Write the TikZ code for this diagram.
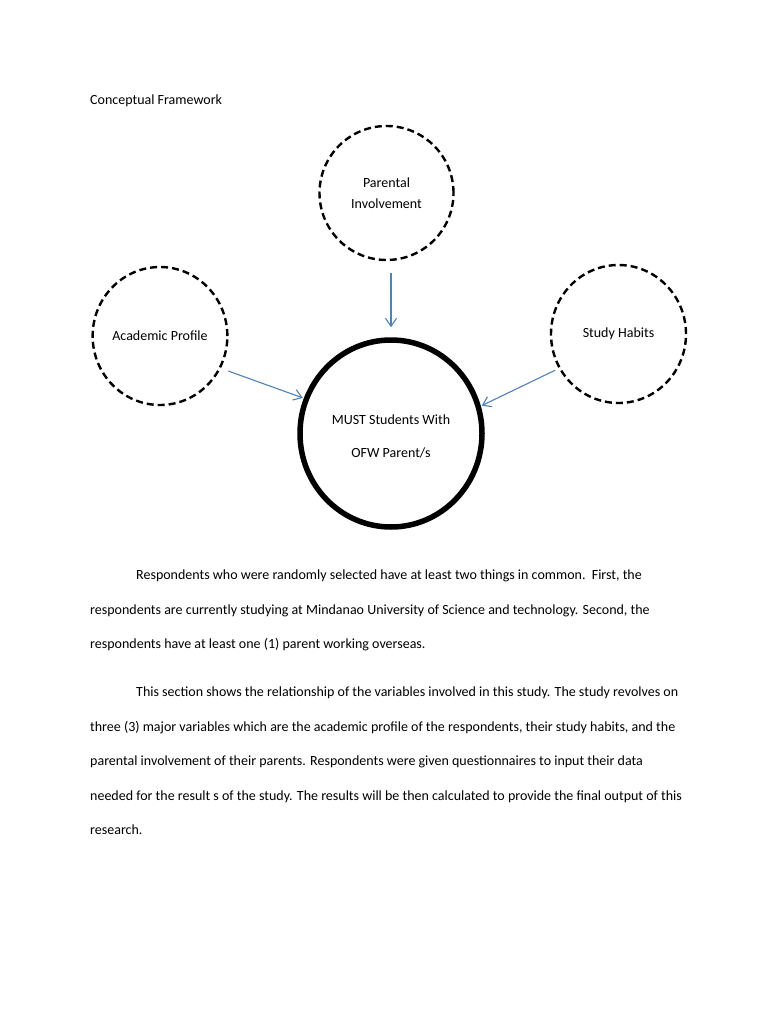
\documentclass[tikz,border=0pt]{standalone}
\usepackage{fontspec}
\setmainfont{Carlito}
\usetikzlibrary{shapes.geometric,arrows.meta}
\begin{document}
\begin{tikzpicture}[x=1pt,y=-1pt,
  every node/.style={font=\fontsize{14}{16}\selectfont, inner sep=0pt},
  varbox/.style={ellipse, draw, line width=2.4pt, dash pattern=on 7pt off 4pt, align=center},
  mainbox/.style={ellipse, draw, line width=5.5pt, align=center},
  para/.style={anchor=mid west},
  link/.style={draw=arrowblue, line width=1.1pt, -{Straight Barb[length=8pt,width=11pt,line width=1.1pt]}}
]
\definecolor{arrowblue}{HTML}{4F81BD}
\useasboundingbox[fill=white] (0,0) rectangle (768,1024);

\node[para] (title) at (90,102.5) {Conceptual Framework};

\node[varbox, minimum width=134pt, minimum height=134pt] (par) at (386.5,193)
  {Parental\\[5pt]Involvement};
\node[varbox, minimum width=134pt, minimum height=138pt] (acad) at (160,336)
  {Academic Profile};
\node[varbox, minimum width=135pt, minimum height=138pt] (habit) at (618.5,334)
  {Study Habits};
\node[mainbox, minimum width=182pt, minimum height=187pt,
  label={[name=musttext, align=center, yshift=-3pt]center:MUST Students With\\[17pt]OFW Parent/s}] (must) at (391,433.5) {};

\draw[link, shorten <=12pt, shorten >=10pt] (must.north |- par.south) -- (must.north);
\draw[link, shorten <=8pt, shorten >=1pt] (acad.-28.5) -- (must.158);
\draw[link, shorten <=4pt, shorten >=1pt] (habit.210.6) -- (must.17.5);

\node[para] (p1) at (136,577) {Respondents who were randomly selected have at least two things in common.\ \ First, the};
\node[para] (p2) at (90,612) {respondents are currently studying at Mindanao University of Science and technology. Second, the};
\node[para] (p3) at (90,646) {respondents have at least one (1) parent working overseas.};
\node[para] (p4) at (136,694) {This section shows the relationship of the variables involved in this study. The study revolves on};
\node[para] (p5) at (90,729) {three (3) major variables which are the academic profile of the respondents, their study habits, and the};
\node[para] (p6) at (90,763) {parental involvement of their parents. Respondents were given questionnaires to input their data};
\node[para] (p7) at (90,798) {needed for the result s of the study. The results will be then calculated to provide the final output of this};
\node[para] (p8) at (90,832) {research.};
\end{tikzpicture}
\end{document}
